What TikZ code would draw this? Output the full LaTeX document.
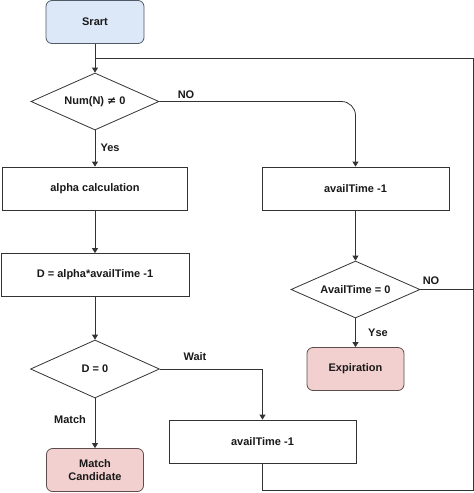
\documentclass[tikz,border=0pt]{standalone}
\usepackage{fontspec}
\setmainfont{Liberation Sans}
\newfontfamily\symfont{DejaVu Sans}
\usetikzlibrary{shapes.geometric,arrows.meta}
\definecolor{lineC}{HTML}{333333}
\definecolor{blueF}{HTML}{DCE7F7}
\definecolor{blueD}{HTML}{4F5A66}
\definecolor{pinkF}{HTML}{F2D0CF}
\definecolor{pinkD}{HTML}{5E4D4D}
\tikzset{
  every node/.style={font=\fontsize{11}{13}\selectfont\bfseries, text=black!90},
  procbox/.style={draw=lineC, line width=0.8pt, fill=white, minimum width=#1, minimum height=43pt, inner sep=0pt},
  termblue/.style={draw=blueD, line width=0.8pt, fill=blueF, rounded corners=6pt, minimum width=98pt, minimum height=43pt, inner sep=0pt},
  termpink/.style={draw=pinkD, line width=0.8pt, fill=pinkF, rounded corners=6pt, minimum width=97pt, minimum height=43pt, inner sep=0pt, align=center},
  decision/.style={draw=lineC, line width=0.8pt, fill=white, diamond, aspect=2.2, inner sep=0pt},
  conn/.style={draw=lineC, line width=0.8pt},
  arr/.style={conn, -{Triangle[length=5pt,width=6pt]}},
  lbl/.style={font=\fontsize{11}{13}\selectfont\bfseries}
}
\begin{document}
\begin{tikzpicture}[x=1pt,y=-1pt]
\useasboundingbox (0,0) rectangle (474,493);
% nodes
\node[termblue] (start) at (95,22) {Srart};
\node[decision, minimum width=128pt, minimum height=57pt] (d1) at (95,101.5) {Num(N) {\symfont\bfseries ≠} 0};
\node[procbox=185pt] (alpha) at (95,188.5) {alpha calculation};
\node[procbox=187pt] (avail1) at (355.5,188.5) {availTime -1};
\node[procbox=188pt] (dbox) at (95,275) {D = alpha*availTime -1};
\node[decision, minimum width=129pt, minimum height=58pt] (d2) at (95,369) {D = 0};
\node[decision, minimum width=129pt, minimum height=57pt] (d3) at (355.5,289.5) {AvailTime = 0};
\node[termpink] (exp) at (355.5,369) {Expiration};
\node[procbox=187pt] (avail2) at (262.5,441.5) {availTime -1};
\node[termpink] (match) at (95,470) {Match\\Candidate};
% helper coordinates
\coordinate (jn) at (95,58);
\coordinate (tr) at (473,58);
\coordinate (br) at (473,490);
\coordinate (bl) at (262.5,490);
\coordinate (wt) at (262.5,369);
\coordinate (nr) at (473,289.5);
% connectors
\draw[arr] (start.south) -- (d1.north);
\draw[arr] (d1.east) -- (341.5,101.5) arc[start angle=90,end angle=0,radius=14pt] -- (avail1.north);
\draw[arr] (d1.south) -- (alpha.north);
\draw[arr] (alpha.south) -- (dbox.north);
\draw[arr] (avail1.south) -- (d3.north);
\draw[arr] (dbox.south) -- (d2.north);
\draw[arr] (d2.south) -- (match.north);
\draw[arr] (d2.east) -- (wt) -- (avail2.north);
\draw[arr] (d3.south) -- (exp.north);
\draw[conn] (d3.east) -- (nr);
\draw[conn] (avail2.south) -- (bl) -- (br) -- (tr) -- (jn);
% labels
\node[lbl] (lno1) at (186,95) {NO};
\node[lbl] (lyes) at (110,148) {Yes};
\node[lbl] (lwait) at (195,357) {Wait};
\node[lbl] (lmatch) at (70,420) {Match};
\node[lbl] (lno2) at (431,281) {NO};
\node[lbl] (lyse) at (378,333) {Yse};
\end{tikzpicture}
\end{document}
